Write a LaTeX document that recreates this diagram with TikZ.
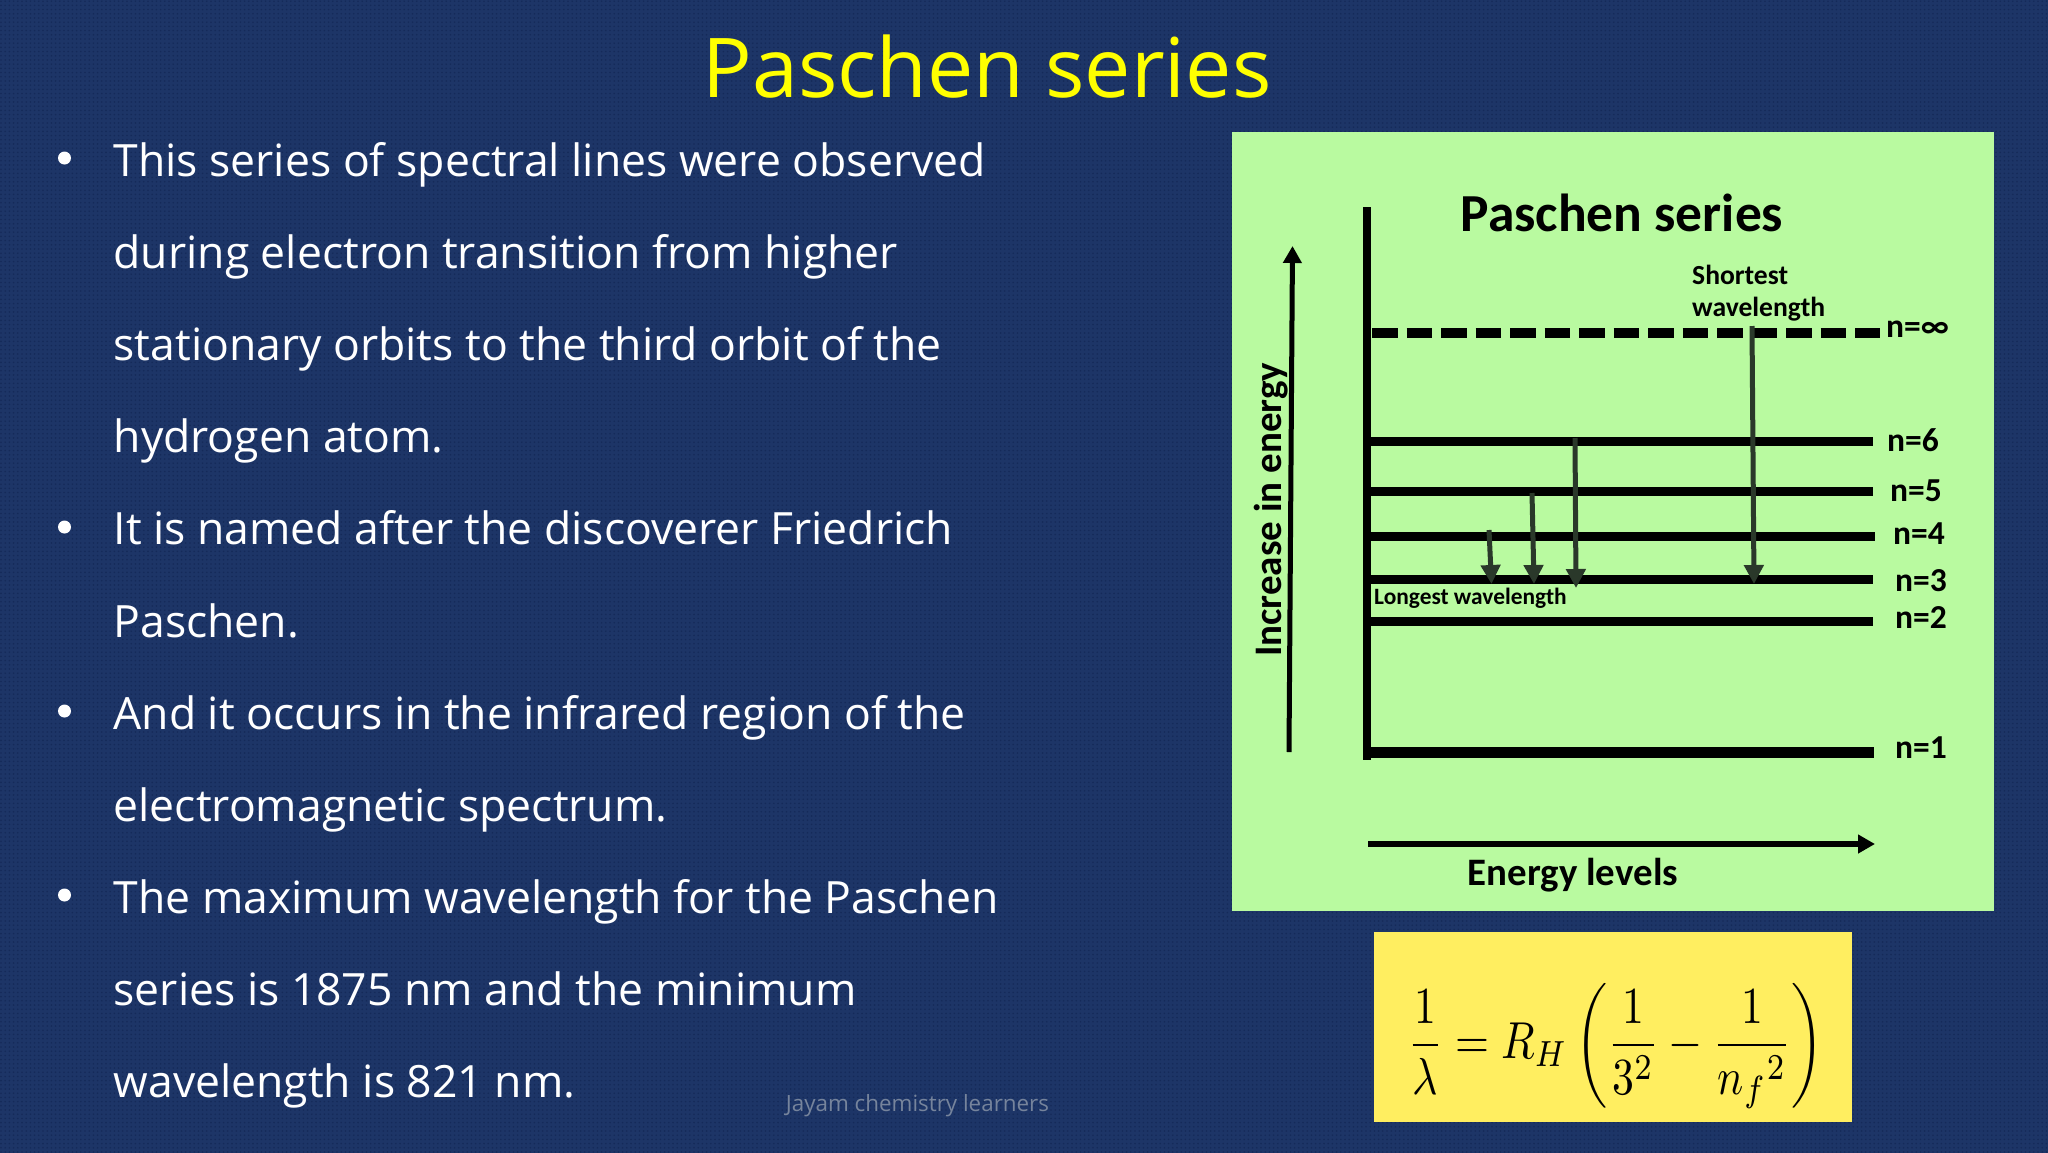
\documentclass[tikz,border=0pt]{standalone}
\usepackage{fontspec}
\setmainfont{Open Sans}
\newfontfamily\dgm{Carlito}
\usetikzlibrary{arrows.meta,patterns.meta}
\definecolor{bgblue}{HTML}{1D3567}
\definecolor{bgdot}{HTML}{152A59}
\definecolor{panelgreen}{HTML}{B9FAA0}
\definecolor{panelyellow}{HTML}{FFEE60}
\definecolor{ttl}{HTML}{FFFF00}
\definecolor{foot}{HTML}{76849C}
\definecolor{trans}{HTML}{2A382A}
\tikzset{
 bodytxt/.style={anchor=base west,inner sep=0,text=white,font=\fontsize{44.5}{45}\selectfont},
 bul/.style={circle,fill=white,inner sep=0,minimum size=13pt},
 level/.style={line width=9pt,black},
 lab/.style={anchor=base west,inner sep=0,text=black,font=\dgm\bfseries\fontsize{33.5}{34}\selectfont},
 small/.style={anchor=base west,inner sep=0,text=black,font=\dgm\bfseries\fontsize{27.6}{28}\selectfont},
 transarrow/.style={line width=5pt,trans,-{Triangle[length=19pt,width=19pt]}},
 axisarrow/.style={line width=5pt,black,-{Triangle[length=17pt,width=18pt]}}
}
\begin{document}
\begin{tikzpicture}[x=1pt,y=-1pt]
\useasboundingbox (0,0) rectangle (2048,1152);
\fill[bgblue] (-3,-3) rectangle (2051,1155);
\fill[pattern={Dots[distance=4.2pt,radius=0.9pt,xshift=1pt]},pattern color=bgdot] (-3,-3) rectangle (2051,1155);
\node[anchor=base,inner sep=0,text=ttl,font=\fontsize{82.5}{84}\selectfont] (title) at (987,97.5) {Paschen series};
% body
\node[bul] (b1) at (64.5,158) {};
\node[bul] (b2) at (64.5,527) {};
\node[bul] (b3) at (64.5,711) {};
\node[bul] (b4) at (64.5,895) {};
\node[bodytxt] (t1) at (113.5,176) {This series of spectral lines were observed};
\node[bodytxt] (t2) at (113.5,268) {during electron transition from higher};
\node[bodytxt] (t3) at (113.5,360.5) {stationary orbits to the third orbit of the};
\node[bodytxt] (t4) at (113.5,452.5) {hydrogen atom.};
\node[bodytxt] (t5) at (113.5,544.5) {It is named after the discoverer Friedrich};
\node[bodytxt] (t6) at (113.5,637) {Paschen.};
\node[bodytxt] (t7) at (113.5,729) {And it occurs in the infrared region of the};
\node[bodytxt] (t8) at (113.5,821) {electromagnetic spectrum.};
\node[bodytxt] (t9) at (113.5,913) {The maximum wavelength for the Paschen};
\node[bodytxt] (t10) at (113.5,1005.5) {series is 1875 nm and the minimum};
\node[bodytxt] (t11) at (113.5,1097.5) {wavelength is 821 nm.};
\node[anchor=base,inner sep=0,text=foot,font=\fontsize{22.4}{24}\selectfont] (foot) at (917.5,1111) {Jayam chemistry learners};
% green panel
\fill[panelgreen] (1232,132) rectangle (1994,911);
\node[anchor=base,inner sep=0,text=black,font=\dgm\bfseries\fontsize{53.5}{54}\selectfont] (ptitle) at (1622,231) {Paschen series};
\coordinate (axtop) at (1366.5,207);
\coordinate (axbot) at (1366.5,760);
\draw[line width=8pt,black] (axtop) -- (axbot);
\coordinate (i0) at (1372,333); \coordinate (i1) at (1880,333);
\coordinate (l6a) at (1370,441); \coordinate (l6b) at (1873,441);
\coordinate (l5a) at (1370,491); \coordinate (l5b) at (1873,491);
\coordinate (l4a) at (1370,536); \coordinate (l4b) at (1875,536);
\coordinate (l3a) at (1370,579); \coordinate (l3b) at (1873,579);
\coordinate (l2a) at (1370,621.5); \coordinate (l2b) at (1873,621.5);
\coordinate (l1a) at (1370,752); \coordinate (l1b) at (1874,752);
\draw[line width=10pt,black,dash pattern=on 25.5pt off 9pt] (i0) -- (i1);
\draw[level] (l6a) -- (l6b);
\draw[level] (l5a) -- (l5b);
\draw[level] (l4a) -- (l4b);
\draw[level] (l3a) -- (l3b);
\draw[level] (l2a) -- (l2b);
\draw[level,line width=11pt] (l1a) -- (l1b);
\coordinate (a1s) at (1489,530); \coordinate (a1e) at (1491.5,584);
\coordinate (a2s) at (1532,493); \coordinate (a2e) at (1534,584);
\coordinate (a3s) at (1575,438); \coordinate (a3e) at (1576,588);
\coordinate (a4s) at (1752,326); \coordinate (a4e) at (1754,584);
\draw[transarrow] (a1s) -- (a1e);
\draw[transarrow] (a2s) -- (a2e);
\draw[transarrow] (a3s) -- (a3e);
\draw[transarrow] (a4s) -- (a4e);
\coordinate (ies) at (1289,752); \coordinate (iee) at (1292.5,246);
\draw[axisarrow] (ies) -- (iee);
\coordinate (els) at (1368,844); \coordinate (ele) at (1875,844);
\draw[axisarrow,line width=6pt] (els) -- (ele);
\node[small] (short1) at (1692,284) {Shortest};
\node[small] (short2) at (1692,316.5) {wavelength};
\node[small,font=\dgm\bfseries\fontsize{23.4}{24}\selectfont] (longest) at (1374,604.5) {Longest wavelength};
\node[lab] (ninf) at (1886,337) {n=∞};
\node[lab] (n6) at (1887,451) {n=6};
\node[lab] (n5) at (1890,501) {n=5};
\node[lab] (n4) at (1893,544) {n=4};
\node[lab] (n3) at (1895,591) {n=3};
\node[lab] (n2) at (1895,628) {n=2};
\node[lab] (n1) at (1895,758) {n=1};
\node[anchor=base west,inner sep=0,text=black,rotate=90,font=\dgm\bfseries\fontsize{39}{39}\selectfont] (incr) at (1281,657) {Increase in energy};
\node[anchor=base,inner sep=0,text=black,font=\dgm\bfseries\fontsize{38.9}{39}\selectfont] (elev) at (1573,885.5) {Energy levels};
% yellow box
\fill[panelyellow] (1374,932) rectangle (1852,1122);
\node[inner sep=0,xscale=4.37,yscale=5.2,text=black] (eq) at (1615.5,1046) {$\displaystyle\frac{1}{\lambda}=R_H\left(\frac{1}{3^2}-\frac{1}{{n_f}^2}\right)$};
\end{tikzpicture}
\end{document}
